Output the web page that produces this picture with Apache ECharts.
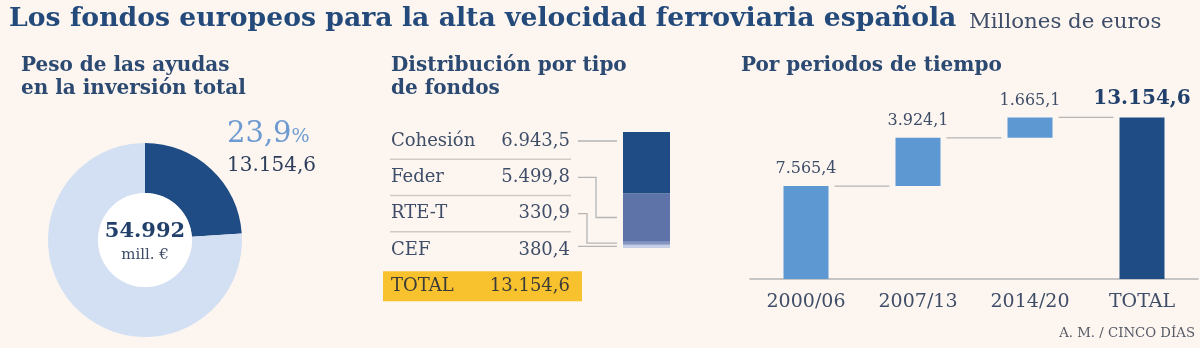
<!DOCTYPE html>
<html><head><meta charset="utf-8">
<script src="https://cdn.jsdelivr.net/npm/echarts@6/dist/echarts.min.js"></script>
<style>html,body{margin:0;padding:0;background:#fdf6f0;}#c{width:1200px;height:348px;}</style>
</head><body><div id="c"></div>
<script>
// ---- data ----
const titleText = 'Los fondos europeos para la alta velocidad ferroviaria española';
const unitText = 'Millones de euros';
const sourceText = 'A. M. / CINCO DÍAS';
const donutTitle = ['Peso de las ayudas', 'en la inversión total'];
const donutNames = ['Fondos europeos', 'Resto de la inversión'];
const totalInvestment = 54992;
const euFunds = 13154.6;
const fundTitle = ['Distribución por tipo', 'de fondos'];
const fundTypes = ['Cohesión', 'Feder', 'RTE-T', 'CEF'];
const fundValues = [6943.5, 5499.8, 330.9, 380.4];
const fundTotalLabel = 'TOTAL';
const periodTitle = 'Por periodos de tiempo';
const periods = ['2000/06', '2007/13', '2014/20', 'TOTAL'];
const periodValues = [7565.4, 3924.1, 1665.1, 13154.6];

// ---- style ----
const FONT = "'DejaVu Serif', 'Liberation Serif', serif";
const C = {
  bg: '#fdf6f0', title: '#234a7a', head: '#2b4971', text: '#3e4d68',
  dark: '#1f4c84', light: '#5d98d2', donutLight: '#d3e0f3', pct: '#6d9ad0',
  line: '#b5b5b5', rule: '#cfcac6', yellow: '#f8c12e'
};
const fundColors = ['#1f4c84', '#5e73a8', '#8595c3', '#c5cfe6'];

function fmt(v, dec) {
  const p = v.toFixed(dec).split('.');
  p[0] = p[0].replace(/\B(?=(\d{3})+(?!\d))/g, '.');
  return p.join(',');
}

const fundTotal = fundValues.reduce((a, b) => a + b, 0);
const base = periodValues.map((v, i) => i === periodValues.length - 1 ? 0 :
  periodValues.slice(0, i).reduce((a, b) => a + b, 0));

const chart = echarts.init(document.getElementById('c'), null, { renderer: 'canvas' });

const fundSeries = [];
for (let i = fundTypes.length - 1; i >= 0; i--) {
  fundSeries.push({
    type: 'bar', name: fundTypes[i], stack: 'f', xAxisIndex: 0, yAxisIndex: 0,
    data: [fundValues[i]], barWidth: '100%', silent: true,
    itemStyle: { color: fundColors[i] }
  });
}

const option = {
  backgroundColor: C.bg,
  animation: false,
  grid: [
    { left: 623, top: 132, width: 47, height: 116 },
    { left: 750, top: 107, width: 448, height: 172 }
  ],
  xAxis: [
    { gridIndex: 0, type: 'category', data: ['Fondos'], show: false },
    { gridIndex: 1, type: 'category', data: periods,
      axisLine: { lineStyle: { color: C.line, width: 1.5 } },
      axisTick: { show: false },
      axisLabel: { fontFamily: FONT, fontSize: 19, color: C.text, margin: 14 } }
  ],
  yAxis: [
    { gridIndex: 0, type: 'value', min: 0, max: fundTotal, show: false },
    { gridIndex: 1, type: 'value', min: 0, max: 14000, show: false, splitLine: { show: false } }
  ],
  series: [
    {
      type: 'pie', name: 'Inversión', center: [145, 240], radius: [47, 97],
      startAngle: 90, clockwise: true, silent: true, label: { show: false },
      labelLine: { show: false }, itemStyle: { borderWidth: 0 },
      data: [
        { name: donutNames[0], value: euFunds, itemStyle: { color: C.dark } },
        { name: donutNames[1], value: totalInvestment - euFunds, itemStyle: { color: C.donutLight } }
      ]
    },
    {
      type: 'pie', name: 'Centro', center: [145, 240], radius: [0, 47], silent: true,
      label: { show: false }, itemStyle: { color: '#ffffff', borderWidth: 0 },
      data: [{ name: 'Total', value: totalInvestment }]
    },
    ...fundSeries,
    {
      type: 'bar', name: 'base', stack: 'wf', xAxisIndex: 1, yAxisIndex: 1, barWidth: 45,
      silent: true, itemStyle: { color: 'transparent' }, data: base
    },
    {
      type: 'bar', name: 'valor', stack: 'wf', xAxisIndex: 1, yAxisIndex: 1, barWidth: 45,
      silent: true,
      data: periodValues.map((v, i) => {
        const last = i === periodValues.length - 1;
        return {
          value: v,
          itemStyle: { color: last ? C.dark : C.light },
          label: last ? { fontWeight: 'bold', fontSize: 20, color: '#21406b' } : {}
        };
      }),
      label: {
        show: true, position: 'top', distance: 9, fontFamily: FONT, fontSize: 16, color: C.text,
        formatter: p => fmt(periodValues[p.dataIndex], 1)
      }
    }
  ]
};
chart.setOption(option);

function txt(id, text, x, y, font, fill, align) {
  return { type: 'text', id, silent: true, z: 100,
    style: { text, x, y, font, fill, align: align || 'left', textAlign: align || 'left',
      verticalAlign: 'middle', textVerticalAlign: 'middle' } };
}
function seg(id, pts, color, w) {
  return { type: 'polyline', id, silent: true, z: 90,
    shape: { points: pts }, style: { stroke: color, lineWidth: w || 1.3, fill: null } };
}

const g = [];
g.push(txt('title', titleText, 9, 19.5, `bold 26.7px ${FONT}`, C.title));
g.push(txt('unit', unitText, 969, 22, `21.3px ${FONT}`, C.text));
g.push(txt('src', sourceText, 1195, 334, `13.3px ${FONT}`, '#555a66', 'right'));

// headings
g.push(txt('h1a', donutTitle[0], 21, 65.5, `bold 20px ${FONT}`, C.head));
g.push(txt('h1b', donutTitle[1], 21, 89, `bold 20px ${FONT}`, C.head));
g.push(txt('h2a', fundTitle[0], 391, 65.5, `bold 20px ${FONT}`, C.head));
g.push(txt('h2b', fundTitle[1], 391, 89, `bold 20px ${FONT}`, C.head));
g.push(txt('h3', periodTitle, 741, 65.5, `bold 20px ${FONT}`, C.head));

// donut labels
const share = euFunds / totalInvestment * 100;
g.push({ type: 'text', id: 'pct', silent: true, z: 100,
  style: { text: `{a|${fmt(share, 1)}}{b|%}`, x: 227, y: 134, verticalAlign: 'middle', textVerticalAlign: 'middle',
    rich: { a: { font: `29px ${FONT}`, fill: C.pct, color: C.pct },
            b: { font: `19px ${FONT}`, fill: C.pct, color: C.pct, padding: [6, 0, 0, 0] } } } });
g.push(txt('eu', fmt(euFunds, 1), 227, 166, `20px ${FONT}`, '#2d3e5c'));
g.push(txt('tot', fmt(totalInvestment, 0), 145, 232, `bold 21px ${FONT}`, '#22406a', 'center'));
g.push(txt('mill', 'mill. €', 145, 255, `15px ${FONT}`, C.text, 'center'));

// table
const rowY0 = 141, rowStep = 36.3, labX = 391, valX = 570;
g.push({ type: 'rect', id: 'ybox', silent: true, z: 80,
  shape: { x: 383, y: rowY0 + fundTypes.length * rowStep - 15, width: 199, height: 30 },
  style: { fill: C.yellow } });
fundTypes.forEach((t, i) => {
  const y = rowY0 + i * rowStep;
  g.push(txt('lab' + i, t, labX, y, `18px ${FONT}`, C.text));
  g.push(txt('val' + i, fmt(fundValues[i], 1), valX, y, `18px ${FONT}`, C.text, 'right'));
  if (i < fundTypes.length - 1) {
    g.push(seg('rule' + i, [[labX - 1, y + rowStep / 2], [valX + 1, y + rowStep / 2]], C.rule, 1.5));
  }
});
const ty = rowY0 + fundTypes.length * rowStep;
g.push(txt('labT', fundTotalLabel, labX, ty, `18px ${FONT}`, '#3b3b38'));
g.push(txt('valT', fmt(fundTotal, 1), valX, ty, `18px ${FONT}`, '#3b3b38', 'right'));

// connectors table -> stacked bar
let cum = fundTotal;
let bendCount = 0;
fundTypes.forEach((t, i) => {
  const topV = cum, botV = cum - fundValues[i];
  cum = botV;
  const yTop = chart.convertToPixel({ xAxisIndex: 0, yAxisIndex: 0 }, [0, topV])[1];
  const yBot = chart.convertToPixel({ xAxisIndex: 0, yAxisIndex: 0 }, [0, botV])[1];
  const rowY = rowY0 + i * rowStep;
  const xs = 578, xe = 617;
  if (rowY >= yTop && rowY <= yBot) {
    g.push(seg('con' + i, [[xs, rowY], [xe, rowY]], C.line));
  } else {
    const ty2 = (yTop + yBot) / 2;
    if (Math.abs(ty2 - rowY) < 5) {
      g.push(seg('con' + i, [[xs, ty2], [xe, ty2]], C.line));
    } else {
      const bx = 596 - bendCount * 9; bendCount++;
      g.push(seg('con' + i, [[xs, rowY], [bx, rowY], [bx, ty2], [xe, ty2]], C.line));
    }
  }
});

// waterfall connectors
for (let i = 0; i < periodValues.length - 1; i++) {
  const v = base[i] + periodValues[i];
  const p1 = chart.convertToPixel({ xAxisIndex: 1, yAxisIndex: 1 }, [i, v]);
  const p2 = chart.convertToPixel({ xAxisIndex: 1, yAxisIndex: 1 }, [i + 1, v]);
  g.push(seg('wf' + i, [[p1[0] + 22.5 + 6, p1[1]], [p2[0] - 22.5 - 6, p2[1]]], C.line, 1.3));
}

chart.setOption({ graphic: g });
</script></body></html>
